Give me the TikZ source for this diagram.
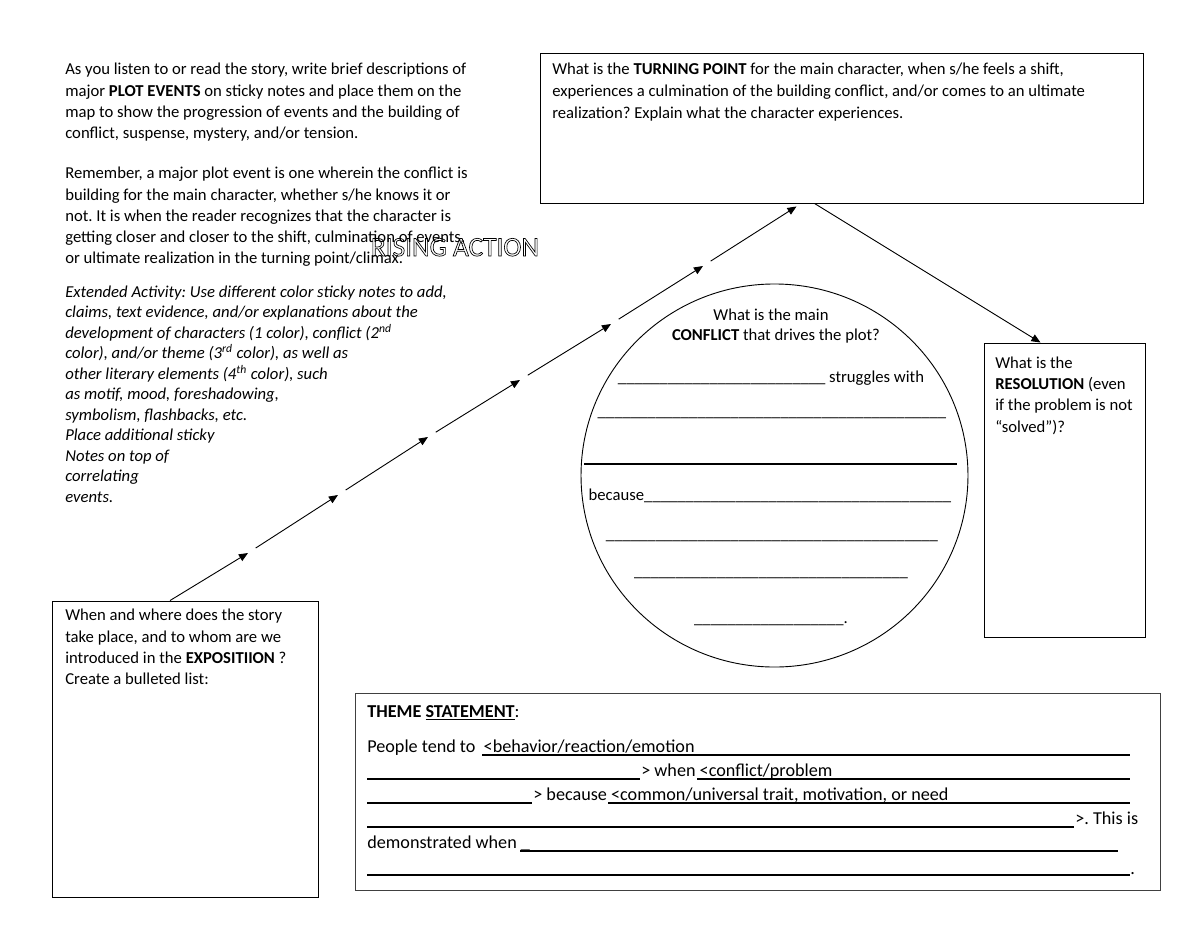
\documentclass[tikz,border=0pt]{standalone}
\usepackage{fontspec}
\setmainfont{Carlito}
\usetikzlibrary{arrows,arrows.meta,positioning,calc,fit,shapes.geometric}
\frenchspacing

\newcommand{\blanks}[1]{\foreach \k in {1,...,#1}{\_}}
\newcommand{\hollow}[1]{\special{pdf:literal direct 1 Tr 0.45 w}#1\special{pdf:literal direct 0 Tr}}

\tikzset{
  body/.style={font=\fontsize{11}{14}\selectfont, inner sep=0pt, align=left, anchor=base west},
  framebox/.style={draw, line width=0.6pt, inner sep=0pt},
  risearrow/.style={line width=0.6pt, -{Triangle[length=6pt,width=5pt]}},
  blankrow/.style={font=\fontsize{11}{14}\selectfont, inner sep=0pt, anchor=base},
  themetext/.style={font=\fontsize{12}{14}\selectfont, inner sep=0pt, anchor=base west},
  fillline/.style={line width=0.8pt}
}

\begin{document}
\begin{tikzpicture}[x=0.66pt,y=-0.66pt]
\useasboundingbox (0,0) rectangle (1200,927);

% instructions (anchored on the baseline of the last line)
\node[body] (intro) at (65,138.6) {As you listen to or read the story, write brief descriptions of\\
major \textbf{PLOT EVENTS} on sticky notes and place them on the\\
map to show the progression of events and the building of\\
conflict, suspense, mystery, and/or tension.};
\node[body] (remember) at (65,263.8) {Remember, a major plot event is one wherein the conflict is\\
building for the main character, whether s/he knows it or\\
not. It is when the reader recognizes that the character is\\
getting closer and closer to the shift, culmination of events,\\
or ultimate realization in the turning point/climax.};
\node[body, font=\fontsize{11}{13.5}\selectfont\itshape] (extended) at (65,502) {Extended Activity: Use different color sticky notes to add,\\
claims, text evidence, and/or explanations about the\\
development of characters (1 color), conflict (2\textsuperscript{nd}\\
color), and/or theme (3\textsuperscript{rd} color), as well as\\
other literary elements (4\textsuperscript{th} color), such\\
as motif, mood, foreshadowing,\\
symbolism, flashbacks, etc.\\
Place additional sticky\\
Notes on top of\\
correlating\\
events.};
\node[font=\fontsize{18}{20}\selectfont, inner sep=0pt, anchor=base] (rising) at (455,256) {\hollow{RISING ACTION}};

% boxes
\node[framebox, fit={(540,53) (1143,203)}] (turning) {};
\node[body, font=\fontsize{11}{14.5}\selectfont] (turningtext) at (552,118) {What is the \textbf{TURNING POINT} for the main character, when s/he feels a shift,\\
experiences a culmination of the building conflict, and/or comes to an ultimate\\
realization? Explain what the character experiences.};

\node[framebox, fit={(984,343) (1145,637)}] (resolution) {};
\node[body] (resolutiontext) at (995,432) {What is the\\
\textbf{RESOLUTION} (even\\
if the problem is not\\
“solved”)?};

\node[framebox, fit={(52,601) (318,897)}] (exposition) {};
\node[body] (expositiontext) at (65,684.6) {When and where does the story\\
take place, and to whom are we\\
introduced in the \textbf{EXPOSITIION} ?\\
Create a bulleted list:};

% conflict
\node[draw, ellipse, line width=0.6pt, minimum width=255.4pt, minimum height=252.8pt, inner sep=0pt] (conflict) at (774.5,475.5) {};
\node[blankrow] (conflictq) at (771,320) {What is the main};
\node[blankrow] (conflictq2) at (776,340) {\textbf{CONFLICT} that drives the plot?};
\node[blankrow] (blank1) at (771,382) {\blanks{25} struggles with};
\node[blankrow] (blank2) at (772,416) {\blanks{42}};
\draw[line width=1.6pt] (584,464) -- (957,464);
\node[blankrow] (blank3) at (770,500) {because\blanks{37}};
\node[blankrow] (blank4) at (772,539) {\blanks{40}};
\node[blankrow] (blank5) at (771,576) {\blanks{33}};
\node[blankrow] (blank6) at (771,623) {\blanks{18}.};

% plot line
\coordinate (e0) at ($(exposition.north)+(-15,0)$);
\foreach \n/\x/\y in {1/248/553, 2/338/495, 3/428/437, 4/520/380, 5/611/324, 6/703/266}
  \coordinate (e\n) at (\x,\y);
\coordinate (e7) at ($(turning.south)+(-45,3)$);
\foreach \i/\j in {0/1,1/2,2/3,3/4,4/5,5/6,6/7}{
  \pgfmathsetmacro\gap{\i>0 ? 6 : 0}
  \draw[risearrow, shorten <=\gap pt] (e\i) -- (e\j);
}
\draw[risearrow] ($(turning.south)+(-27,0)$) -- ($(resolution.north)+(-24,0)$);

% theme
\node[framebox, draw=black!75, fit={(355,693) (1160,890)}] (theme) {};
\node[themetext] (themehead) at (367,717) {\textbf{THEME \underline{STATEMENT}}:};
\node[themetext] (tend) at (367,752) {People tend to\ \ \textless behavior/reaction/emotion};
\draw[fillline] (482,755) -- (1130,755);
\node[themetext] (when) at (641,776) {\textgreater{} when \textless conflict/problem};
\draw[fillline] (367,779) -- (640,779);
\draw[fillline] (697,779) -- (1130,779);
\node[themetext] (becausetrait) at (533,800) {\textgreater{} because \textless common/universal trait, motivation, or need};
\draw[fillline] (367,803) -- (532,803);
\draw[fillline] (608,803) -- (1130,803);
\node[themetext] (thisis) at (1075,824) {\textgreater. This is};
\draw[fillline] (367,827) -- (1074,827);
\node[themetext] (demonstrated) at (367,848) {demonstrated when \_};
\draw[fillline] (520,851) -- (1118,851);
\node[themetext] (stop) at (1130,874) {.};
\draw[fillline] (367,875) -- (1130,875);
\end{tikzpicture}
\end{document}
